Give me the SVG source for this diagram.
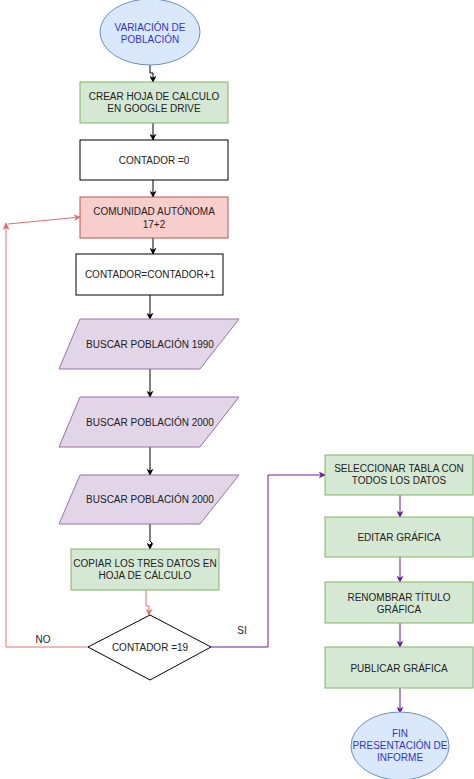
<svg xmlns="http://www.w3.org/2000/svg" width="474" height="779" viewBox="0 0 474 779">
<defs>
<marker id="ab" viewBox="0 0 10 10" refX="9" refY="5" markerWidth="7" markerHeight="7" orient="auto" markerUnits="userSpaceOnUse"><path d="M0,0 L10,5 L0,10 L3,5 Z" fill="#000"/></marker>
<marker id="ap" viewBox="0 0 10 10" refX="9" refY="5" markerWidth="7" markerHeight="7" orient="auto" markerUnits="userSpaceOnUse"><path d="M0,0 L10,5 L0,10 L3,5 Z" fill="#6a1b9a"/></marker>
<marker id="ar" viewBox="0 0 10 10" refX="9" refY="5" markerWidth="7" markerHeight="7" orient="auto" markerUnits="userSpaceOnUse"><path d="M0,0 L10,5 L0,10 L3,5 Z" fill="#e07070"/></marker>
</defs>
<style>
text{font-family:"Liberation Sans",Arial,sans-serif;font-size:10px;fill:#222;text-anchor:middle}
.blue text{fill:#3333cc}
.ell{fill:#dae8fc;stroke:#6c8ebf}
.green{fill:#d5e8d4;stroke:#82b366}
.white{fill:#fff;stroke:#000}
.pink{fill:#f8cecc;stroke:#b85450}
.purple{fill:#e1d5e7;stroke:#9673a6}
.k{fill:none;stroke:#000;stroke-width:1;marker-end:url(#ab)}
.p{fill:none;stroke:#6a1b9a;stroke-width:1;marker-end:url(#ap)}
.r{fill:none;stroke:#e07070;stroke-width:1}
</style>
<rect width="474" height="779" fill="#fff"/>
<g id="connectors">
<path class="k" d="M150,65 V73 H153 V82"/>
<path class="k" d="M153,123 V140"/>
<path class="k" d="M153,180 V197"/>
<path class="k" d="M153,238 V254"/>
<path class="k" d="M150,295 V319"/>
<path class="k" d="M150,369 V397"/>
<path class="k" d="M150,447 V475"/>
<path class="k" d="M150,524 V541 L152,543 L150,545 V549"/>
<path class="r" d="M146,590 V606 H149 V615" marker-end="url(#ar)"/>
<path class="r" d="M88,647 H6 V226"/>
<path d="M6,222 L9.5,230 L6,228 L2.5,230 Z" fill="#e07070"/>
<path class="r" d="M8,224 L80,217" marker-end="url(#ar)"/>
<path class="p" d="M211,647 H268 V475 H325"/>
<path class="p" d="M400,495 V517"/>
<path class="p" d="M400,557 V582"/>
<path class="p" d="M400,623 V647"/>
<path class="p" d="M400,688 V713"/>
<text x="43" y="643">NO</text>
<text x="242" y="634">SI</text>
</g>
<g id="start" class="blue"><ellipse class="ell" cx="150" cy="32" rx="50" ry="33"/><text x="150" y="31">VARIACIÓN DE</text><text x="150" y="43">POBLACIÓN</text></g>
<g id="crear"><rect class="green" x="80" y="82" width="148" height="41"/><text x="154" y="100">CREAR HOJA DE CALCULO</text><text x="154" y="112">EN GOOGLE DRIVE</text></g>
<g id="contador0"><rect class="white" x="80" y="140" width="148" height="40"/><text x="154" y="164">CONTADOR =0</text></g>
<g id="comunidad"><rect class="pink" x="80" y="197" width="148" height="41"/><text x="154" y="215">COMUNIDAD AUTÓNOMA</text><text x="154" y="228">17+2</text></g>
<g id="contador1"><rect class="white" x="76" y="254" width="147" height="41"/><text x="150" y="278">CONTADOR=CONTADOR+1</text></g>
<g id="buscar1990"><polygon class="purple" points="80,319 239,319 200,369 59,369"/><text x="150" y="348">BUSCAR POBLACIÓN 1990</text></g>
<g id="buscar2000a"><polygon class="purple" points="80,397 239,397 200,447 59,447"/><text x="150" y="426">BUSCAR POBLACIÓN 2000</text></g>
<g id="buscar2000b"><polygon class="purple" points="80,475 239,475 200,524 59,524"/><text x="150" y="503">BUSCAR POBLACIÓN 2000</text></g>
<g id="copiar"><rect class="green" x="71" y="549" width="148" height="41"/><text x="145" y="567">COPIAR LOS TRES DATOS EN</text><text x="145" y="579">HOJA DE CÁLCULO</text></g>
<g id="decision"><polygon class="white" points="150,615 211,647 150,680 88,647"/><text x="150" y="651">CONTADOR =19</text></g>
<g id="seleccionar"><rect class="green" x="325" y="455" width="148" height="40"/><text x="399" y="472">SELECCIONAR TABLA CON</text><text x="399" y="484">TODOS LOS DATOS</text></g>
<g id="editar"><rect class="green" x="325" y="517" width="148" height="40"/><text x="399" y="541">EDITAR GRÁFICA</text></g>
<g id="renombrar"><rect class="green" x="325" y="582" width="148" height="41"/><text x="399" y="601">RENOMBRAR TÍTULO</text><text x="399" y="613">GRÁFICA</text></g>
<g id="publicar"><rect class="green" x="325" y="647" width="148" height="41"/><text x="399" y="672">PUBLICAR GRÁFICA</text></g>
<g id="fin" class="blue"><ellipse class="ell" cx="400" cy="746" rx="49" ry="34"/><text x="400" y="737">FIN</text><text x="400" y="749">PRESENTACIÓN DE</text><text x="400" y="761">INFORME</text></g>
</svg>
